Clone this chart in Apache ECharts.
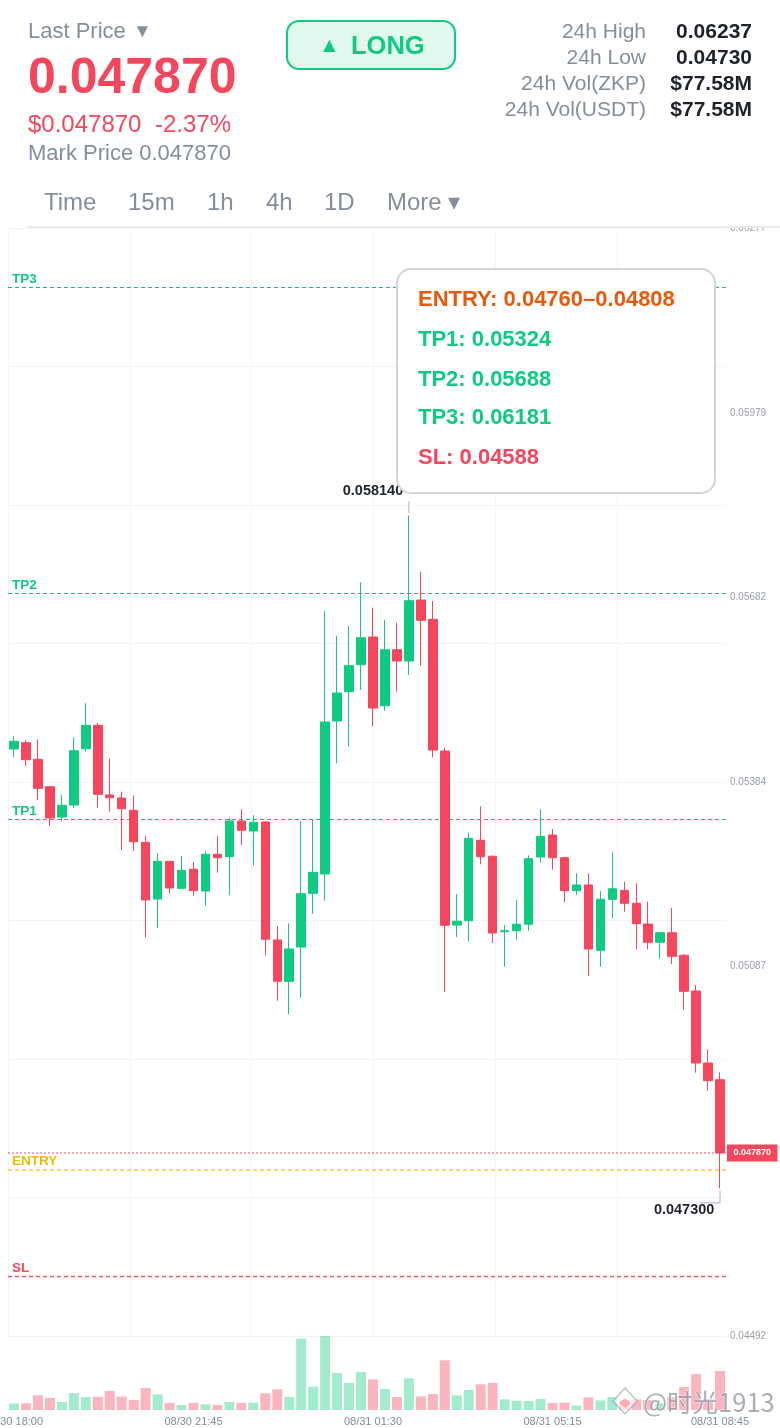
<!DOCTYPE html>
<html>
<head>
<meta charset="utf-8">
<style>html,body{margin:0;padding:0;background:#fff}#c{width:780px;height:1428px}</style>
<script src="https://cdn.jsdelivr.net/npm/echarts@6/dist/echarts.min.js"></script>
</head>
<body>
<div id="c"></div>
<script>
const times = ['08/30 18:00','08/30 18:15','08/30 18:30','08/30 18:45','08/30 19:00','08/30 19:15','08/30 19:30','08/30 19:45','08/30 20:00','08/30 20:15','08/30 20:30','08/30 20:45','08/30 21:00','08/30 21:15','08/30 21:30','08/30 21:45','08/30 22:00','08/30 22:15','08/30 22:30','08/30 22:45','08/30 23:00','08/30 23:15','08/30 23:30','08/30 23:45','08/31 00:00','08/31 00:15','08/31 00:30','08/31 00:45','08/31 01:00','08/31 01:15','08/31 01:30','08/31 01:45','08/31 02:00','08/31 02:15','08/31 02:30','08/31 02:45','08/31 03:00','08/31 03:15','08/31 03:30','08/31 03:45','08/31 04:00','08/31 04:15','08/31 04:30','08/31 04:45','08/31 05:00','08/31 05:15','08/31 05:30','08/31 05:45','08/31 06:00','08/31 06:15','08/31 06:30','08/31 06:45','08/31 07:00','08/31 07:15','08/31 07:30','08/31 07:45','08/31 08:00','08/31 08:15','08/31 08:30','08/31 08:45'];
const shownTimes = ['08/30 18:00','08/30 21:45','08/31 01:30','08/31 05:15','08/31 08:45'];
const opens = [.054377,.054478,.054211,.053769,.053281,.053474,.054381,.054758,.053636,.053587,.053389,.052873,.051960,.052567,.052132,.052439,.052089,.052680,.052642,.053217,.053056,.053201,.051300,.050634,.051187,.052052,.052363,.054828,.055300,.055735,.056181,.055074,.055976,.055794,.056777,.056466,.054344,.051541,.051610,.052906,.052648,.051433,.051449,.051553,.052637,.052991,.052625,.052094,.052186,.051134,.051955,.052100,.051891,.051557,.051263,.051417,.051053,.050478,.049318,.049049];
const closes = [.054501,.054204,.053743,.053265,.053470,.054349,.054758,.053647,.053592,.053415,.052883,.051944,.052567,.052137,.052423,.052094,.052680,.052625,.053217,.053067,.053196,.051311,.050634,.051155,.052045,.052390,.054812,.055279,.055719,.056170,.055037,.055976,.055794,.056766,.056450,.054360,.051536,.051601,.052938,.052642,.051412,.051449,.051553,.052609,.052970,.052625,.052094,.052186,.051155,.051955,.052126,.051891,.051562,.051263,.051417,.051037,.050473,.049318,.049033,.047870];
const lows = [.054243,.054103,.053555,.053136,.053217,.053421,.054333,.053431,.053367,.052749,.052733,.051343,.051493,.052052,.052132,.052013,.051852,.052384,.052025,.052830,.052503,.051053,.050322,.050103,.050370,.051723,.051933,.054146,.054414,.055327,.054742,.054994,.055300,.055569,.055719,.054243,.050462,.051348,.051279,.052519,.051251,.050869,.051300,.051449,.052545,.052432,.051912,.052025,.050720,.050869,.051654,.051756,.051150,.051150,.050998,.050913,.050177,.049162,.048872,.047300];
const highs = [.054586,.054522,.054533,.053769,.053636,.054565,.055113,.054800,.054220,.053689,.053631,.052975,.052696,.052567,.052653,.052556,.052729,.052975,.053270,.053405,.053309,.053217,.051525,.051569,.053217,.053244,.056600,.056197,.056358,.057062,.056653,.056455,.056411,.058140,.057228,.056761,.054398,.052041,.053028,.053453,.052664,.051541,.051944,.052664,.053405,.053088,.052642,.052374,.052374,.052089,.052713,.052239,.052213,.051917,.051428,.051815,.051074,.050575,.049539,.049168];
const volumes = [20,20,44,36,24,51,39,40,57,40,30,66,47,21,15,21,17,15,24,21,22,50,62,39,214,70,222,111,81,114,92,63,39,95,41,48,149,44,60,77,81,32,28,27,33,21,22,13,38,29,39,30,32,30,20,38,69,108,32,117];
const priceTicks = [.06277,.05979,.05682,.05384,.05087,.04492];
const targets = [['TP3',.06181],['TP2',.05688],['TP1',.05324]];
const entryLevel = ['ENTRY',.0476];
const stopLevel = ['SL',.04588];
const lastPrice = .04787;
const statLabels = ['24h High','24h Low','24h Vol(ZKP)','24h Vol(USDT)'];
const statValues = ['0.06237','0.04730','$77.58M','$77.58M'];
const tabLabels = ['Time','15m','1h','4h','1D','More ▾'];
const planLines = ['ENTRY: 0.04760–0.04808','TP1: 0.05324','TP2: 0.05688','TP3: 0.06181','SL: 0.04588'];

const RED='#F6465D', GREEN='#0ECB81', GRAY='#848E9C', DARK='#1E2329', GRID='#F3F4F6', LEADER='#C8CCD4';
const FF='"Liberation Sans",Arial,sans-serif';
const Z=100;
const txt=(x,y,text,size,fill,bold,align)=>({type:'text',x,y,z:Z,silent:true,style:{text,font:(bold?'bold ':'')+size+'px '+FF,fill,align:align||'left',verticalAlign:'middle'}});

const levelLine=(name,val,color,dash,labelColor,width,op)=>({
  name,yAxis:val,
  lineStyle:{color,type:dash,width:width||1,opacity:op||1},
  label:{show:true,formatter:name,position:'insideStartTop',distance:[4,1],color:labelColor,opacity:1,fontFamily:FF,fontWeight:'bold',fontSize:13.5}
});

const graphic=[
  {type:'rect',z:Z-1,silent:true,shape:{x:0,y:0,width:780,height:228},style:{fill:'#fff'}},
  {type:'rect',z:Z,silent:true,shape:{x:28,y:226,width:752,height:2},style:{fill:'#E9EBEE'}},
  txt(28,32,'Last Price',22,GRAY),
  txt(133,32,'▼',19,GRAY),
  txt(28,79,'0.047870',50,RED,true),
  txt(28,125,'$0.047870',24,RED),
  txt(155,125,'-2.37%',24,RED),
  txt(28,154,'Mark Price 0.047870',22,GRAY),
  {type:'rect',z:Z,silent:true,shape:{x:287,y:21,width:168,height:48,r:12},style:{fill:'#E1F8EE',stroke:GREEN,lineWidth:2}},
  txt(319,46,'▲',21,GREEN,true),
  txt(351,47,'LONG',25.5,GREEN,true),
  {type:'rect',z:Z,silent:true,shape:{x:397,y:269,width:318,height:224,r:14},style:{fill:'rgba(255,255,255,0.97)',stroke:'#D1D5DB',lineWidth:2}},
  {type:'text',x:643,y:1402,z:Z,silent:true,style:{text:'@时光1913',font:'25.5px "Noto Sans CJK SC",'+FF,fill:'rgba(140,146,158,0.75)',stroke:'rgba(255,255,255,0.7)',lineWidth:1,align:'left',verticalAlign:'middle'}},
  {type:'polygon',z:Z,silent:true,shape:{points:[[625,1388],[637,1401],[625,1414],[613,1401]]},style:{fill:'rgba(255,255,255,0.6)',stroke:'rgba(150,155,165,0.6)',lineWidth:1.5}},
  {type:'polygon',z:Z,silent:true,shape:{points:[[625,1398],[631,1403],[625,1408],[619,1403]]},style:{fill:'rgba(246,70,93,0.35)'}}
];
statLabels.forEach((s,i)=>{
  const y=[32,58,84,110][i];
  graphic.push(txt(646,y,s,21,GRAY,false,'right'));
  graphic.push(txt(752,y,statValues[i],21,DARK,true,'right'));
});
[44,128,207,266,324,387].forEach((x,i)=>graphic.push(txt(x,203,tabLabels[i],24,GRAY)));
[[300,'#E8590C'],[340,GREEN],[380,GREEN],[418,GREEN],[458,RED]].forEach((r,i)=>graphic.push(txt(418,r[0],planLines[i],22,r[1],true)));

const noAxisLine={show:false};
const option={
  animation:false,
  backgroundColor:'#fff',
  graphic:{elements:graphic},
  grid:[
    {left:8,right:54,top:228,height:1108,outerBoundsMode:'none'},
    {left:8,right:54,top:1336,height:74,outerBoundsMode:'none'}
  ],
  xAxis:[
    {type:'category',gridIndex:0,data:times,boundaryGap:true,axisLine:noAxisLine,axisTick:{show:false},axisLabel:{show:false},splitLine:{show:false}},
    {type:'category',gridIndex:1,data:times,boundaryGap:true,axisLine:noAxisLine,axisTick:{show:false},splitLine:{show:false},
      axisLabel:{show:true,interval:(i,v)=>shownTimes.includes(v),hideOverlap:false,showMinLabel:true,showMaxLabel:true,margin:6,color:GRAY,fontSize:11,fontFamily:FF}},
    {type:'value',gridIndex:0,min:0,max:60,interval:10.175,axisLine:noAxisLine,axisTick:{show:false},axisLabel:{show:false},
      splitLine:{show:true,showMaxLine:false,lineStyle:{color:GRID,width:1}}}
  ],
  yAxis:[
    {type:'value',gridIndex:0,position:'right',min:.04492,max:.06277,scale:true,axisLine:noAxisLine,axisTick:{show:false},splitLine:{show:false},
      axisLabel:{show:true,customValues:priceTicks,formatter:v=>(+v).toFixed(5),margin:4,color:'#9AA0A8',fontSize:10,fontFamily:FF}},
    {type:'value',gridIndex:0,min:0,max:8,interval:1,axisLine:noAxisLine,axisTick:{show:false},axisLabel:{show:false},
      splitLine:{show:true,lineStyle:{color:GRID,width:1}}},
    {type:'value',gridIndex:1,min:0,max:222,axisLine:noAxisLine,axisTick:{show:false},axisLabel:{show:false},splitLine:{show:false}}
  ],
  series:[
    {type:'candlestick',xAxisIndex:0,yAxisIndex:0,barWidth:9,z:5,
      data:times.map((t,i)=>[opens[i],closes[i],lows[i],highs[i]]),
      itemStyle:{color:GREEN,color0:RED,borderColor:GREEN,borderColor0:RED,borderWidth:1},
      markLine:{silent:true,symbol:'none',animation:false,precision:6,
        data:[
          ...targets.map(t=>levelLine(t[0],t[1],'#14BD82',[4,3],GREEN,1.2)),
          levelLine(entryLevel[0],entryLevel[1],'#F0B90B',[4,3],'#F0B90B',1.6,.8),
          levelLine(stopLevel[0],stopLevel[1],RED,[4,3],RED,1.4,.9),
          {name:'last',yAxis:lastPrice,lineStyle:{color:RED,type:[2,2],width:1.6,opacity:.6},
            label:{show:true,position:'end',distance:1,opacity:1,formatter:lastPrice.toFixed(6),backgroundColor:RED,color:'#fff',fontFamily:FF,fontWeight:'bold',fontSize:9,padding:[4,6.5,4,6.5]}}
        ]},
      markPoint:{silent:true,symbol:'circle',symbolSize:1,itemStyle:{color:'rgba(0,0,0,0)'},animation:false,
        data:[
          {coord:[30,.05853],label:{show:true,position:'inside',formatter:highs[33].toFixed(6),color:DARK,fontFamily:FF,fontWeight:'bold',fontSize:14.5}},
          {coord:[56,.04695],label:{show:true,position:'inside',formatter:lows[59].toFixed(6),color:DARK,fontFamily:FF,fontWeight:'bold',fontSize:14.5}}
        ]}
    },
    {type:'line',xAxisIndex:2,yAxisIndex:0,showSymbol:false,symbol:'none',silent:true,z:4,lineStyle:{color:LEADER,width:1.5},
      data:[[33.5,.05837],[33.5,.05818]]},
    {type:'line',xAxisIndex:2,yAxisIndex:0,showSymbol:false,symbol:'none',silent:true,z:4,lineStyle:{color:LEADER,width:1.5},
      data:[[57.8,.047068],[59.5,.047068],[59.5,.047261]]},
    {type:'bar',xAxisIndex:1,yAxisIndex:2,barWidth:10,
      data:volumes.map((v,i)=>({value:v,itemStyle:{color:closes[i]>=opens[i]?'rgba(14,203,129,0.38)':'rgba(246,70,93,0.4)'}}))}
  ]
};
const chart=echarts.init(document.getElementById('c'));
chart.setOption(option);
</script>
</body>
</html>
